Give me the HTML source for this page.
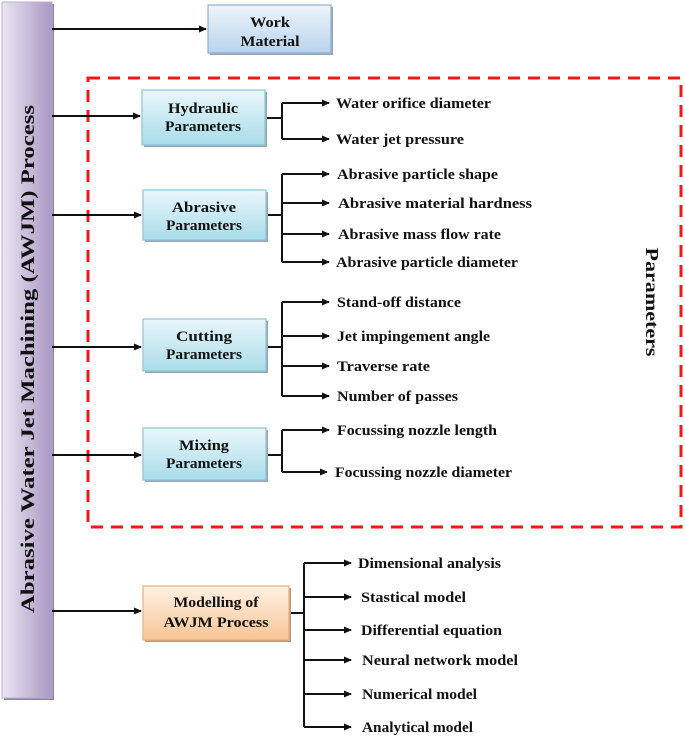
<!DOCTYPE html>
<html><head><meta charset="utf-8"><style>
html,body{margin:0;padding:0;background:#fff}
svg{display:block}
text{font-family:"Liberation Serif",serif;font-weight:bold;fill:#111}
</style></head><body>
<svg width="685" height="738" viewBox="0 0 685 738" xmlns="http://www.w3.org/2000/svg">
<defs>
<linearGradient id="bar" x1="0" x2="1" y1="0" y2="0"><stop offset="0" stop-color="#ebe5f2"/><stop offset="1" stop-color="#a999c4"/></linearGradient>
<linearGradient id="blue" x1="0" x2="0" y1="0" y2="1"><stop offset="0" stop-color="#eef5fb"/><stop offset="1" stop-color="#b9d3ec"/></linearGradient>
<linearGradient id="cyan" x1="0" x2="0" y1="0" y2="1"><stop offset="0" stop-color="#eaf7fb"/><stop offset="1" stop-color="#a9dcea"/></linearGradient>
<linearGradient id="org" x1="0" x2="0" y1="0" y2="1"><stop offset="0" stop-color="#fff1e3"/><stop offset="1" stop-color="#f8c597"/></linearGradient>
<marker id="a" markerWidth="8" markerHeight="8" refX="7" refY="4" orient="auto" markerUnits="userSpaceOnUse"><path d="M0,0.5 L8,4 L0,7.5 Z" fill="#111"/></marker>
</defs>
<rect x="4" y="4" width="50" height="696" fill="#8f86a0"/>
<rect x="2" y="2" width="50" height="696" fill="url(#bar)" stroke="#b8aed0" stroke-width="1"/>
<text transform="translate(34,359) rotate(-90)" text-anchor="middle" font-size="19" textLength="508" lengthAdjust="spacingAndGlyphs">Abrasive Water Jet  Machining  (AWJM) Process</text>
<rect x="88" y="78" width="593" height="449" fill="none" stroke="#f01818" stroke-width="3" stroke-dasharray="12,8"/>
<text transform="translate(646,302) rotate(90)" text-anchor="middle" font-size="18" textLength="109" lengthAdjust="spacingAndGlyphs">Parameters</text>
<g stroke="#111" stroke-width="2" fill="none">
<line x1="52" y1="29" x2="206" y2="29" marker-end="url(#a)"/>
<line x1="52" y1="116" x2="140" y2="116" marker-end="url(#a)"/>
<line x1="52" y1="215" x2="141" y2="215" marker-end="url(#a)"/>
<line x1="52" y1="347" x2="141" y2="347" marker-end="url(#a)"/>
<line x1="52" y1="455" x2="141" y2="455" marker-end="url(#a)"/>
<line x1="52" y1="611" x2="141" y2="611" marker-end="url(#a)"/>
<line x1="265" y1="118" x2="282" y2="118"/><line x1="282" y1="103" x2="282" y2="139"/>
<line x1="282" y1="103" x2="329" y2="103" marker-end="url(#a)"/><line x1="282" y1="139" x2="329" y2="139" marker-end="url(#a)"/>
<line x1="266" y1="215" x2="282" y2="215"/><line x1="282" y1="174" x2="282" y2="262"/>
<line x1="282" y1="174" x2="329" y2="174" marker-end="url(#a)"/><line x1="282" y1="203" x2="329" y2="203" marker-end="url(#a)"/>
<line x1="282" y1="234" x2="329" y2="234" marker-end="url(#a)"/><line x1="282" y1="262" x2="329" y2="262" marker-end="url(#a)"/>
<line x1="266" y1="347" x2="282" y2="347"/><line x1="282" y1="302" x2="282" y2="396"/>
<line x1="282" y1="302" x2="329" y2="302" marker-end="url(#a)"/><line x1="282" y1="336" x2="329" y2="336" marker-end="url(#a)"/>
<line x1="282" y1="366" x2="329" y2="366" marker-end="url(#a)"/><line x1="282" y1="396" x2="329" y2="396" marker-end="url(#a)"/>
<line x1="266" y1="455" x2="282" y2="455"/><line x1="282" y1="430" x2="282" y2="472"/>
<line x1="282" y1="430" x2="329" y2="430" marker-end="url(#a)"/><line x1="282" y1="472" x2="327" y2="472" marker-end="url(#a)"/>
<line x1="289" y1="613" x2="304" y2="613"/><line x1="304" y1="563" x2="304" y2="727"/>
<line x1="304" y1="563" x2="351" y2="563" marker-end="url(#a)"/><line x1="304" y1="597" x2="351" y2="597" marker-end="url(#a)"/>
<line x1="304" y1="630" x2="351" y2="630" marker-end="url(#a)"/><line x1="304" y1="660" x2="351" y2="660" marker-end="url(#a)"/>
<line x1="304" y1="694" x2="351" y2="694" marker-end="url(#a)"/><line x1="304" y1="727" x2="351" y2="727" marker-end="url(#a)"/>
</g>
<g stroke-width="1.2">
<rect x="210" y="7" width="123" height="48" fill="#9aa6b4"/><rect x="208" y="5" width="123" height="48" fill="url(#blue)" stroke="#8fb0d2"/>
<rect x="144" y="92" width="123" height="55" fill="#9aa6b4"/><rect x="142" y="90" width="123" height="55" fill="url(#cyan)" stroke="#8cc6d8"/>
<rect x="145" y="192" width="123" height="50" fill="#9aa6b4"/><rect x="143" y="190" width="123" height="50" fill="url(#cyan)" stroke="#8cc6d8"/>
<rect x="145" y="321" width="123" height="52" fill="#9aa6b4"/><rect x="143" y="319" width="123" height="52" fill="url(#cyan)" stroke="#8cc6d8"/>
<rect x="145" y="430" width="123" height="52" fill="#9aa6b4"/><rect x="143" y="428" width="123" height="52" fill="url(#cyan)" stroke="#8cc6d8"/>
<rect x="145" y="588" width="146" height="54" fill="#b09a88"/><rect x="143" y="586" width="146" height="54" fill="url(#org)" stroke="#f0b078"/>
</g>
<g font-size="15" text-anchor="middle" fill="#333">
<text x="270" y="27" textLength="40" lengthAdjust="spacingAndGlyphs">Work</text><text x="270" y="46" textLength="59" lengthAdjust="spacingAndGlyphs">Material</text>
<text x="203" y="113" textLength="70" lengthAdjust="spacingAndGlyphs">Hydraulic</text><text x="203" y="131" textLength="76" lengthAdjust="spacingAndGlyphs">Parameters</text>
<text x="204" y="212" textLength="64" lengthAdjust="spacingAndGlyphs">Abrasive</text><text x="204" y="230" textLength="76" lengthAdjust="spacingAndGlyphs">Parameters</text>
<text x="204" y="341" textLength="56" lengthAdjust="spacingAndGlyphs">Cutting</text><text x="204" y="359" textLength="76" lengthAdjust="spacingAndGlyphs">Parameters</text>
<text x="204" y="450" textLength="50" lengthAdjust="spacingAndGlyphs">Mixing</text><text x="204" y="468" textLength="76" lengthAdjust="spacingAndGlyphs">Parameters</text>
<text x="216" y="607" textLength="85" lengthAdjust="spacingAndGlyphs">Modelling of</text><text x="216" y="627" textLength="105" lengthAdjust="spacingAndGlyphs">AWJM Process</text>
</g>
<g font-size="15" lengthAdjust="spacingAndGlyphs">
<text x="336" y="108" textLength="155" lengthAdjust="spacingAndGlyphs">Water orifice diameter</text>
<text x="336" y="144" textLength="128" lengthAdjust="spacingAndGlyphs">Water jet pressure</text>
<text x="337" y="179" textLength="161" lengthAdjust="spacingAndGlyphs">Abrasive particle shape</text>
<text x="338" y="208" textLength="194" lengthAdjust="spacingAndGlyphs">Abrasive  material hardness</text>
<text x="338" y="239" textLength="163" lengthAdjust="spacingAndGlyphs">Abrasive mass flow rate</text>
<text x="336" y="267" textLength="182" lengthAdjust="spacingAndGlyphs">Abrasive particle diameter</text>
<text x="337" y="307" textLength="124" lengthAdjust="spacingAndGlyphs">Stand-off distance</text>
<text x="337" y="341" textLength="153" lengthAdjust="spacingAndGlyphs">Jet impingement angle</text>
<text x="337" y="371" textLength="93" lengthAdjust="spacingAndGlyphs">Traverse rate</text>
<text x="337" y="401" textLength="121" lengthAdjust="spacingAndGlyphs">Number of passes</text>
<text x="337" y="435" textLength="160" lengthAdjust="spacingAndGlyphs">Focussing nozzle length</text>
<text x="335" y="477" textLength="177" lengthAdjust="spacingAndGlyphs">Focussing nozzle diameter</text>
<text x="358" y="568" textLength="143" lengthAdjust="spacingAndGlyphs">Dimensional analysis</text>
<text x="361" y="602" textLength="105" lengthAdjust="spacingAndGlyphs">Stastical model</text>
<text x="361" y="635" textLength="141" lengthAdjust="spacingAndGlyphs">Differential equation</text>
<text x="362" y="665" textLength="156" lengthAdjust="spacingAndGlyphs">Neural network  model</text>
<text x="362" y="699" textLength="115" lengthAdjust="spacingAndGlyphs">Numerical model</text>
<text x="362" y="732" textLength="111" lengthAdjust="spacingAndGlyphs">Analytical model</text>
</g>
</svg>
</body></html>
